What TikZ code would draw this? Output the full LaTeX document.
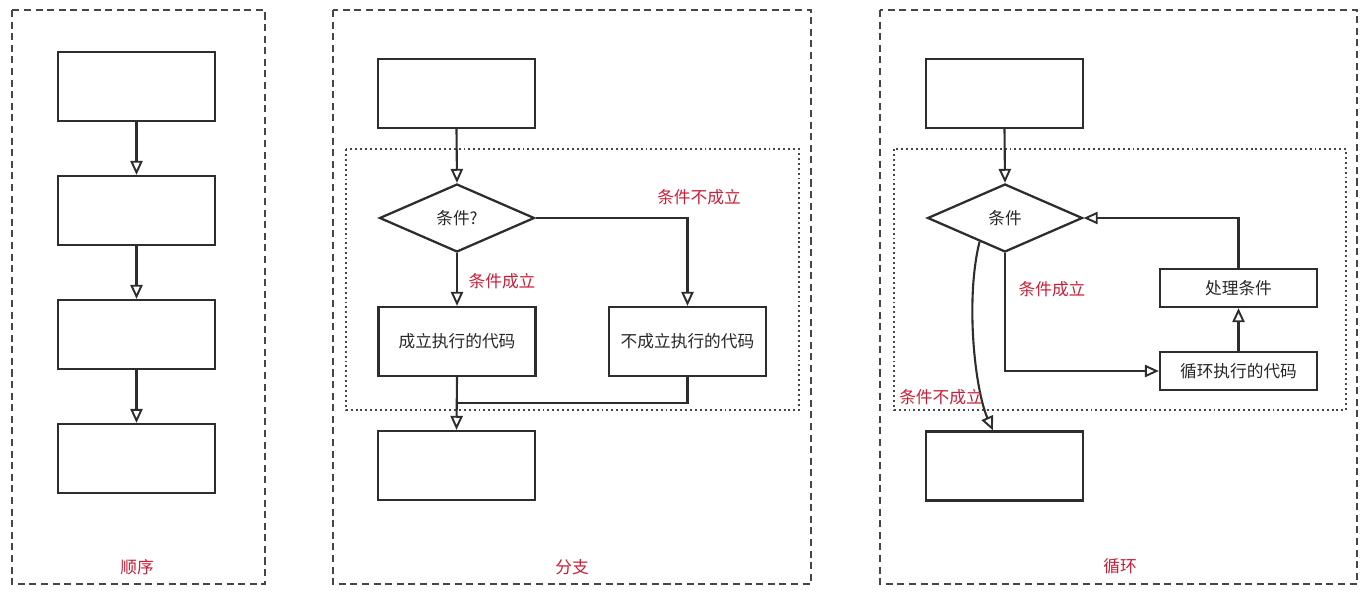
\documentclass[tikz,border=0pt]{standalone}
\usepackage{fontspec}
\usepackage{tikz}
\usetikzlibrary{shapes.geometric}
\usetikzlibrary{arrows.meta}
\newfontfamily\cjk{Noto Sans CJK SC}
\definecolor{lblred}{RGB}{200,30,55}
\definecolor{linegray}{RGB}{45,45,45}
\definecolor{framegray}{RGB}{70,70,70}

\begin{document}
\begin{tikzpicture}[x=0.02cm,y=-0.02cm,
  box/.style={draw=linegray,line width=1.3pt,inner sep=0pt,minimum width=3.14cm,minimum height=1.38cm,text=black!85,font=\cjk\fontsize{9.5}{11}\selectfont},
  smallbox/.style={box,minimum height=0.76cm},
  cond/.style={shape=diamond,draw=linegray,line width=1.3pt,inner sep=0pt,minimum width=3.1cm,minimum height=1.36cm,text=black!85,font=\cjk\fontsize{9.5}{11}\selectfont},
  lbl/.style={text=lblred,inner sep=0pt,font=\cjk\fontsize{9.5}{11}\selectfont},
  arr/.style={draw=linegray,line width=1.2pt,-{Triangle[open,length=8pt,width=7pt,line width=1.1pt]}},
  conn/.style={draw=linegray,line width=1.2pt},
  panel/.style={draw=framegray,line width=1pt,dash pattern=on 4pt off 2.6pt},
  region/.style={draw=framegray,line width=1.1pt,dash pattern=on 1.1pt off 1.7pt}]
  \useasboundingbox (0,0) rectangle (1372,599);
  % frames
  \draw[panel] (12,10) rectangle (265,584);
  \draw[panel] (333,10) rectangle (811,584);
  \draw[panel] (880,10) rectangle (1357,584);
  \draw[region] (346,149) rectangle (799,410);
  \draw[region] (894,149) rectangle (1346,410);

  % sequence
  \node[box] (s1) at (136.5,86.5) {};
  \node[box] (s2) at (136.5,210.5) {};
  \node[box] (s3) at (136.5,334.5) {};
  \node[box] (s4) at (136.5,458.5) {};
  \draw[arr] (s1.south) -- (s2.north);
  \draw[arr] (s2.south) -- (s3.north);
  \draw[arr] (s3.south) -- (s4.north);
  \node[lbl] (seqname) at (137,567) {顺序};

  % branch
  \node[box] (b0) at (456.5,93.5) {};
  \node[cond] (bc) at (457,218) {条件?};
  \node[box] (byes) at (457,341.5) {成立执行的代码};
  \node[box] (bno) at (687.5,341.5) {不成立执行的代码};
  \node[box] (bend) at (456.5,465.5) {};
  \coordinate (bjoin) at (457,403);
  \draw[arr] (b0.south) -- (bc.north);
  \draw[arr] (bc.south) -- (byes.north);
  \draw[arr] (bc.east) -| (bno.north);
  \draw[conn] (bno.south) |- (bjoin);
  \draw[arr] (byes.south) -- (bend.north);
  \node[lbl] (byeslbl) at (502,281) {条件成立};
  \node[lbl] (bnolbl) at (699,197) {条件不成立};
  \node[lbl] (brname) at (572,567) {分支};

  % loop
  \node[box] (l0) at (1004.5,93.5) {};
  \node[cond] (lc) at (1005,218) {条件};
  \node[smallbox] (lupd) at (1238.5,288) {处理条件};
  \node[smallbox] (lloop) at (1238.5,371) {循环执行的代码};
  \node[box] (lend) at (1004.5,466) {};
  \draw[arr] (l0.south) -- (lc.north);
  \draw[arr] (lc.south) |- (lloop.west);
  \draw[arr] (lloop.north) -- (lupd.south);
  \draw[arr] (lupd.north) |- (lc.east);
  \draw[arr] (lc.-137) .. controls (965,300) and (975,390) .. (lend.108);
  \node[lbl] (lyeslbl) at (1052,289) {条件成立};
  \node[lbl] (lnolbl) at (941,397) {条件不成立};
  \node[lbl] (loopname) at (1120,566) {循环};
\end{tikzpicture}
\end{document}
